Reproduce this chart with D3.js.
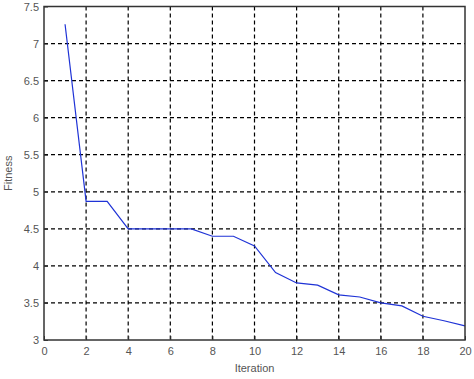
<!DOCTYPE html>
<html><head><meta charset="utf-8">
<script src="https://cdn.jsdelivr.net/npm/d3@7"></script>
<style>body{margin:0;background:#fff}svg{display:block}</style>
</head><body>
<svg id="c" width="474" height="379"></svg>
<script>
const iterations = [1,2,3,4,5,6,7,8,9,10,11,12,13,14,15,16,17,18,19,20];
const fitness = [7.26,4.87,4.87,4.50,4.50,4.50,4.50,4.40,4.40,4.27,3.91,3.77,3.74,3.61,3.58,3.50,3.46,3.32,3.26,3.19];
const xTicks = [0,2,4,6,8,10,12,14,16,18,20];
const yTicks = [3,3.5,4,4.5,5,5.5,6,6.5,7,7.5];

const svg = d3.select("#c");
const L = 44, R = 465, T = 6.5, B = 340;
const x = d3.scaleLinear().domain([0,20]).range([L,R]);
const y = d3.scaleLinear().domain([3,7.5]).range([B,T]);
const font = "Liberation Sans, Arial, sans-serif";
const txt = "#555";

// grid
const g = svg.append("g");
g.selectAll("line.vx").data(xTicks.slice(1,-1)).enter().append("line")
  .attr("x1",d=>x(d)).attr("x2",d=>x(d)).attr("y1",T).attr("y2",B)
  .attr("stroke","#000").attr("stroke-width",1.2).attr("stroke-dasharray","4,3");
g.selectAll("line.hy").data(yTicks.slice(1,-1)).enter().append("line")
  .attr("x1",L).attr("x2",R).attr("y1",d=>y(d)).attr("y2",d=>y(d))
  .attr("stroke","#000").attr("stroke-width",1.2).attr("stroke-dasharray","4,3");

// line
svg.append("path").datum(iterations.map((d,i)=>[d,fitness[i]]))
  .attr("fill","none").attr("stroke","#1f33d6").attr("stroke-width",1.2)
  .attr("d", d3.line().x(d=>x(d[0])).y(d=>y(d[1])));

// box
svg.append("rect").attr("x",L).attr("y",T).attr("width",R-L).attr("height",B-T)
  .attr("fill","none").attr("stroke","#333").attr("stroke-width",1.5);

// axes
const xa = svg.append("g").attr("transform",`translate(0,${B})`)
  .call(d3.axisBottom(x).tickValues(xTicks).tickSize(-4).tickPadding(7).tickFormat(d3.format("d")));
const ya = svg.append("g").attr("transform",`translate(${L},0)`)
  .call(d3.axisLeft(y).tickValues(yTicks).tickSize(-4).tickPadding(5).tickFormat(d=>String(d)));
[xa,ya].forEach(a=>{
  a.select(".domain").remove();
  a.selectAll(".tick line").attr("stroke","#333");
  a.selectAll("text").attr("fill",txt).style("font-family",font).style("font-size","11px");
});

svg.append("text").attr("x",(L+R)/2).attr("y",372).attr("text-anchor","middle")
  .attr("fill",txt).style("font-family",font).style("font-size","11px").text("Iteration");
svg.append("text").attr("transform",`translate(12,${(T+B)/2}) rotate(-90)`).attr("text-anchor","middle")
  .attr("fill",txt).style("font-family",font).style("font-size","11px").text("Fitness");
</script>
</body></html>
